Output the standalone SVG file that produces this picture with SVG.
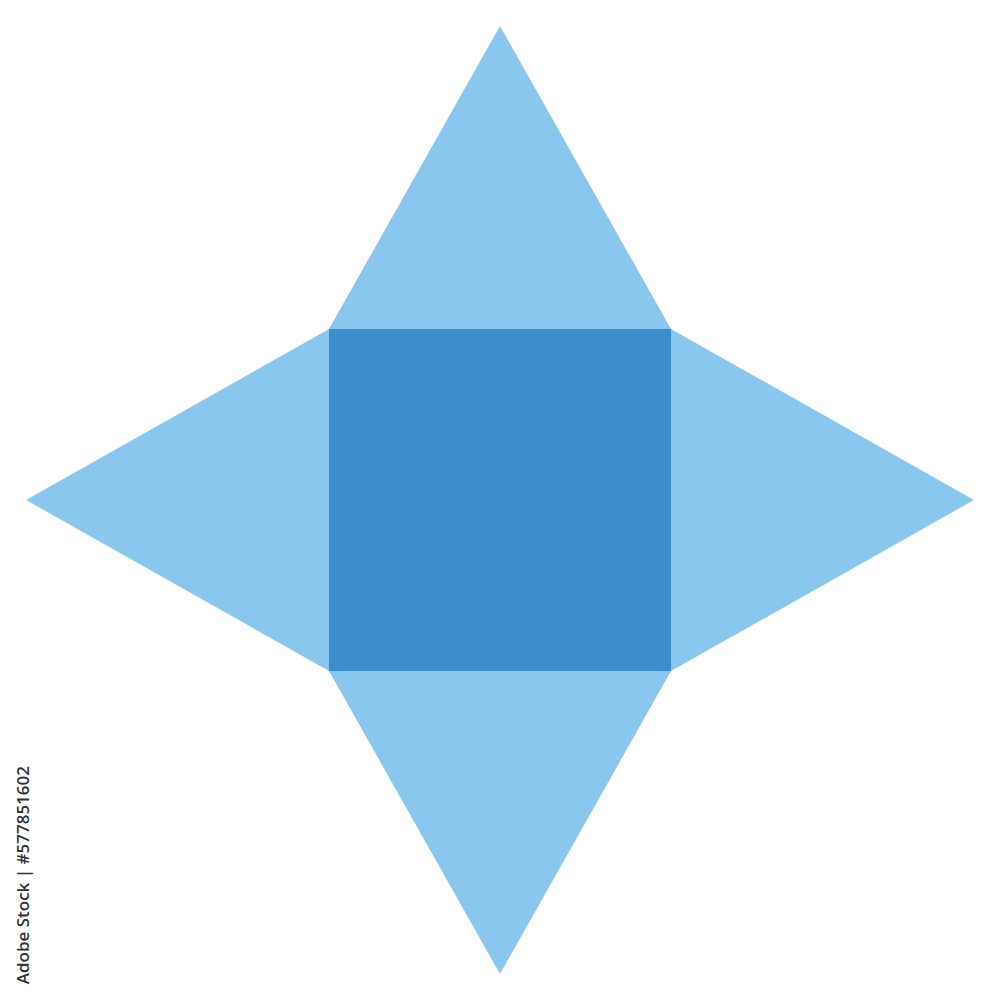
<svg xmlns="http://www.w3.org/2000/svg" width="1000" height="1000" viewBox="0 0 1000 1000">
<style>
.face{fill:#8AC7EE}
.base{fill:#3D8CCB}
.id{font-family:"Open Sans","Liberation Sans",sans-serif;font-size:17px;font-weight:600;fill:#333}
</style>
<rect width="1000" height="1000" fill="#fff"/>
<g id="net">
<polygon id="top" class="face" points="500,26 671,329 329,329"/>
<polygon id="right" class="face" points="974,500 671,671 671,329"/>
<polygon id="bottom" class="face" points="500,974 329,671 671,671"/>
<polygon id="left" class="face" points="26,500 329,329 329,671"/>
<rect id="square" class="base" x="329" y="329" width="342" height="342"/>
</g>
<text class="id" transform="translate(29,766) rotate(-90)" text-anchor="end">Adobe Stock | #577851602</text>
</svg>
